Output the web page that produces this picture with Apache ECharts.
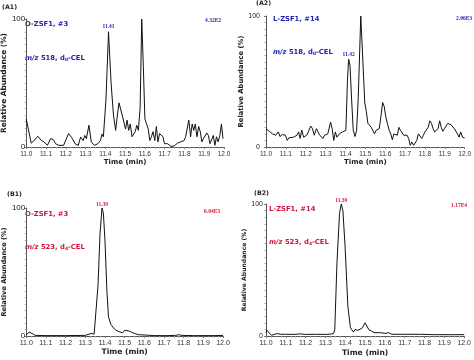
<!DOCTYPE html>
<html><head><meta charset="utf-8">
<script src="https://cdn.jsdelivr.net/npm/echarts@6/dist/echarts.min.js"></script>
<style>html,body{margin:0;padding:0;background:#fff}#c{width:474px;height:360px}</style>
</head><body><div id="c"></div>
<script>
// ---- data ----
const timeA1 = [11.000,11.025,11.049,11.058,11.066,11.077,11.090,11.107,11.123,11.137,11.148,11.164,11.189,11.214,11.230,11.247,11.263,11.275,11.288,11.296,11.304,11.317,11.329,11.345,11.362,11.375,11.383,11.390,11.395,11.403,11.416,11.429,11.441,11.452,11.461,11.469,11.477,11.485,11.493,11.502,11.510,11.518,11.526,11.535,11.543,11.551,11.559,11.567,11.576,11.584,11.592,11.600,11.609,11.617,11.625,11.633,11.641,11.650,11.658,11.666,11.674,11.683,11.691,11.699,11.707,11.715,11.732,11.748,11.765,11.781,11.798,11.806,11.814,11.822,11.831,11.839,11.847,11.855,11.863,11.872,11.880,11.888,11.896,11.905,11.913,11.921,11.929,11.938,11.946,11.954,11.962,11.970,11.979,11.987,11.995];
const abundA1 = [22,3,6.5,8.4,7,5,4,1.3,6.5,5.8,2.6,1.3,1.3,10.5,7.3,2.6,1.3,7.8,5,9,6.5,17,4,1.3,2.6,5,10,8,9,36.6,90,50,25,13,25,34.5,34,25,26,14,21,13,18,8,9,12,17,13,31,100,63,22,22,14,5,8,12,5,16,4,10.5,12,8,2.6,4,2.6,0.5,0.8,3,4,5,8,6.5,21,8,18,13,18,8,16,12,4,6.5,8,11,9,2.6,4,9,1.3,8,4,9,18,6.5];

const timeA2 = [11.000,11.016,11.033,11.049,11.062,11.070,11.082,11.090,11.098,11.107,11.115,11.123,11.139,11.156,11.164,11.172,11.180,11.189,11.197,11.205,11.213,11.225,11.234,11.243,11.254,11.262,11.270,11.279,11.287,11.295,11.303,11.311,11.325,11.333,11.341,11.349,11.357,11.369,11.385,11.393,11.402,11.410,11.416,11.423,11.431,11.439,11.448,11.456,11.464,11.477,11.489,11.497,11.505,11.513,11.521,11.530,11.538,11.546,11.554,11.562,11.570,11.579,11.587,11.595,11.603,11.611,11.620,11.628,11.636,11.644,11.652,11.661,11.669,11.677,11.685,11.693,11.702,11.710,11.718,11.726,11.734,11.743,11.751,11.759,11.767,11.775,11.784,11.792,11.800,11.808,11.816,11.825,11.833,11.841,11.849,11.857,11.866,11.874,11.882,11.890,11.898,11.907,11.915,11.923,11.931,11.939,11.948,11.956,11.964,11.972,11.980,11.989,12.000];
const abundA2 = [14,12,10,9,11.5,8,9.5,8,9,5,7,5.5,7.5,9,11.5,6.5,13,7.5,7,9,11.5,16,14,9,14,14.5,9,10,6.5,9,7.5,10,19,14,5,11.5,7.5,10,11.5,11.5,12.7,51,67,62,36,13,8,12.7,36,100,61,34,27,18,17,15,14,10,12.7,11.5,14,24,34,31,23,18,12.7,10,5.6,10,11.5,9,15,12.7,11.5,9,7.5,9,6.5,1.3,3.8,1.3,2.5,5,10,9,6.5,9,11.5,11.5,15,20,18,14,11.5,10,14,20,15,12,14,15,18,18.5,17,16,14,12,10,7.5,11.5,7.5,7];

const timeB1 = [11.000,11.015,11.030,11.045,11.100,11.200,11.300,11.310,11.330,11.345,11.355,11.365,11.375,11.385,11.392,11.400,11.410,11.418,11.430,11.440,11.455,11.470,11.480,11.490,11.500,11.510,11.520,11.535,11.550,11.570,11.600,11.650,11.720,11.760,11.775,11.790,11.850,11.950,12.000];
const abundB1 = [1,3,2,0.5,0.3,0.3,0.5,1.5,2,1.5,3,40,80,100,96,75,35,15,9,7,4.5,3.5,4,2.5,4.5,5.5,4,3,2,1,0.8,0.3,0.3,0.5,1,0.5,0.3,0.3,0.5];

const timeB2 = [11.000,11.005,11.015,11.028,11.041,11.058,11.074,11.100,11.140,11.170,11.200,11.250,11.300,11.330,11.341,11.347,11.358,11.371,11.380,11.388,11.399,11.413,11.426,11.441,11.450,11.462,11.474,11.487,11.500,11.508,11.520,11.533,11.545,11.561,11.578,11.586,11.602,11.619,11.635,11.700,11.780,11.850,11.950,12.000];
const abundB2 = [2.5,4.3,2.5,0.5,1.3,1.8,1.3,1.3,1.2,1.6,1.2,1.3,1.2,1.5,2,5,55,93,100,95,68,22.6,6.3,3,5,4.3,5,6.3,10,8.8,4.5,3.8,2.5,2.5,2.5,3.3,2,2.5,1.3,1.3,1.3,1,1,1];

const panelIds = ['(A1)','(A2)','(B1)','(B2)'];
const sampleNames = ['O-ZSF1, #3','L-ZSF1, #14','O-ZSF1, #3','L-ZSF1, #14'];
const ionLabels = [['518','0'],['518','0'],['523','4'],['523','4']];
const intensities = ['4.32E2','2.06E3','6.04E3','1.17E4'];
const peakLabels = ['11.41','11.42','11.39','11.39'];
const xTicks = {min:11.0, max:12.0, step:0.1};
const yTicks = {min:0, max:100, step:100};
const xName = 'Time (min)';
const yName = 'Relative Abundance (%)';

// ---- layout / style ----
const BLUE = '#2323b4', RED = '#d2153c';
const colors = [BLUE, BLUE, RED, RED];
const grids = [
  {left:22, right:250, top:19, bottom:213},
  {left:266, right:5, top:16, bottom:213},
  {left:22, right:251, top:208, bottom:24},
  {left:266, right:7, top:204, bottom:24}
];
const xLabelSize = [6.5,6.5,7,7];
const xNameSize = [7,7,7.6,7.6];
const xNameGap = [12,10,12,13];
const yNameSize = [7.4,6.8,6.6,6.1];
const yNameGap = [17,17,15,17];
const yLabelSize = [8,7,8,7];
const yLabelMargin = [1,6,1,3];
const peakDist = [2,2,0,0];

const series = [[timeA1,abundA1],[timeA2,abundA2],[timeB1,abundB1],[timeB2,abundB2]];

function buildData(i){
  const [t,v] = series[i];
  const target = parseFloat(peakLabels[i]);
  // label the local maximum nearest to the annotated retention time
  let best = -1, bestScore = Infinity;
  for (let k=0;k<t.length;k++){
    const d = Math.abs(t[k]-target);
    if (d < 0.03) { const s = -v[k]; if (s < bestScore){bestScore=s;best=k;} }
  }
  return t.map((x,k)=>{
    const item = {value:[x, v[k]]};
    if (k===best) item.label = {show:true, formatter:peakLabels[i], position:'top', distance:peakDist[i],
      color:colors[i], fontSize:5.5, fontWeight:'bold', fontFamily:'Liberation Serif'};
    return item;
  });
}

const option = {
  animation:false,
  backgroundColor:'#fff',
  grid: grids,
  xAxis: grids.map((g,i)=>({
    type:'value', gridIndex:i, min:xTicks.min, max:xTicks.max, interval:xTicks.step,
    name:xName, nameLocation:'middle', nameGap:xNameGap[i],
    nameTextStyle:{fontFamily:'DejaVu Sans', fontWeight:'bold', fontSize:xNameSize[i], color:'#222'},
    axisLine:{show:true, onZero:false, lineStyle:{color:'#555', width:1}},
    axisTick:{show:true, length:2, lineStyle:{color:'#777'}},
    minorTick:{show:true, splitNumber:4, length:1.5, lineStyle:{color:'#999'}},
    splitLine:{show:false},
    axisLabel:{fontFamily:'Liberation Sans', fontSize:xLabelSize[i], color:'#333', margin:4,
      formatter:v=>v.toFixed(1), showMinLabel:true, showMaxLabel:true, hideOverlap:false}
  })),
  yAxis: grids.map((g,i)=>({
    type:'value', gridIndex:i, min:yTicks.min, max:yTicks.max, interval:yTicks.step,
    name:yName, nameLocation:'middle', nameGap:yNameGap[i],
    nameTextStyle:{fontFamily:'DejaVu Sans', fontWeight:'bold', fontSize:yNameSize[i], color:'#222'},
    axisLine:{show:true, lineStyle:{color:'#555', width:1}},
    axisTick:{show:true, length:2, lineStyle:{color:'#777'}},
    minorTick:{show:true, splitNumber:20, length:1.5, lineStyle:{color:'#aaa'}},
    splitLine:{show:false},
    axisLabel:{fontFamily:'Liberation Sans', fontSize:yLabelSize[i], color:'#222', margin:yLabelMargin[i]}
  })),
  series: grids.map((g,i)=>({
    type:'line', xAxisIndex:i, yAxisIndex:i, data:buildData(i),
    showSymbol:true, symbol:'circle', symbolSize:0, silent:true,
    lineStyle:{color:'#111', width:1}, itemStyle:{color:'#111'}
  })),
  graphic: []
};

// text annotations
const idPos = [[2,7],[256,3],[7,194],[254,193]];
const namePos = [[25,24],[273,19],[25,214],[269,209]];
const ionPos = [[25,58],[273,52],[25,247],[269,242]];
const intPos = [[205,21],[456,19],[204,212],[451,206]];
for (let i=0;i<4;i++){
  option.graphic.push({type:'text', x:idPos[i][0], y:idPos[i][1], style:{text:panelIds[i], fill:'#222',
    font:'bold 6.3px "DejaVu Sans"', textVerticalAlign:'middle'}});
  option.graphic.push({type:'text', x:namePos[i][0], y:namePos[i][1], style:{text:sampleNames[i], fill:colors[i],
    font:'bold 6.8px "DejaVu Sans"', textVerticalAlign:'middle'}});
  option.graphic.push({type:'text', x:ionPos[i][0], y:ionPos[i][1], style:{
    text:'{it|m/z} {n|'+ionLabels[i][0]+', d}{sub|'+ionLabels[i][1]+'}{n|-CEL}',
    fill:colors[i], textVerticalAlign:'middle', font:'bold 6.8px "DejaVu Sans"',
    rich:{
      it:{fontStyle:'italic', fontWeight:'bold', fontSize:6.8, fontFamily:'DejaVu Sans', fill:colors[i], lineHeight:9},
      n:{fontWeight:'bold', fontSize:6.8, fontFamily:'DejaVu Sans', fill:colors[i], lineHeight:9},
      sub:{fontWeight:'bold', fontSize:4.5, fontFamily:'DejaVu Sans', fill:colors[i], lineHeight:9, padding:[4,0,0,0]}
    }}});
  option.graphic.push({type:'text', x:intPos[i][0], y:intPos[i][1], style:{text:intensities[i], fill:colors[i],
    font:'bold 5.5px "Liberation Serif"', textVerticalAlign:'middle'}});
}

const chart = echarts.init(document.getElementById('c'), null, {renderer:'canvas'});
chart.setOption(option);
</script>
</body></html>
